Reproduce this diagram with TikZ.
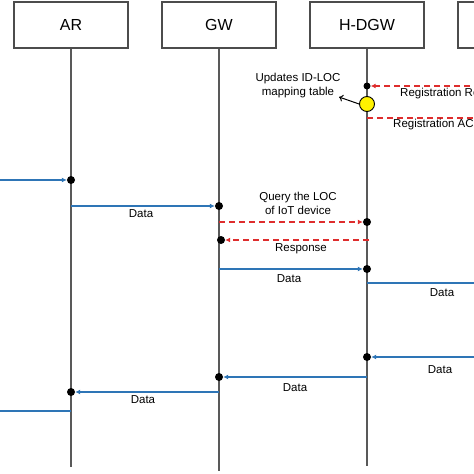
\documentclass[tikz,border=0pt]{standalone}
\usepackage{fontspec}
\setmainfont{Liberation Sans}
\usetikzlibrary{arrows.meta}
\definecolor{msgblue}{RGB}{46,117,182}
\definecolor{ctlred}{RGB}{222,45,45}
\begin{document}
\begin{tikzpicture}[x=1pt,y=-1pt,
  headbox/.style={draw=black!70, line width=1.1pt, minimum width=114pt, minimum height=46pt, inner sep=0pt, font=\fontsize{16}{19}\selectfont},
  life/.style={draw=black!65, line width=1.1pt},
  msg/.style={draw=msgblue, line width=1.5pt, -{Latex[length=5pt,width=5pt]}},
  msgfree/.style={draw=msgblue, line width=1.5pt},
  ctl/.style={draw=ctlred, line width=1.7pt, dash pattern=on 6pt off 4pt, -{Latex[length=5pt,width=5pt]}},
  ctlfree/.style={draw=ctlred, line width=1.7pt, dash pattern=on 6pt off 4pt},
  evdot/.style={circle, fill=black, inner sep=0pt, minimum size=8pt},
  lbl/.style={font=\fontsize{11.5}{14}\selectfont, inner sep=0pt, align=center}]
\useasboundingbox (0,0) rectangle (474,474);
\clip (0,0) rectangle (474,474);
% heads
\node[headbox] (ar) at (71,25) {AR};
\node[headbox] (gw) at (219,25) {GW};
\node[headbox] (hd) at (367,25) {H-DGW};
\node[headbox] (ot) at (515,25) {};
% lifeline ends
\coordinate (arE) at (71,467);
\coordinate (gwE) at (219,471);
\coordinate (hdE) at (367,466);
\draw[life] (ar.south) -- (arE);
\draw[life] (gw.south) -- (gwE);
\draw[life] (hd.south) -- (hdE);
% registration request
\coordinate (rrR) at (480,86);
\node[evdot, minimum size=7pt] (rrD) at (367,86) {};
\draw[ctl] (rrR) -- (rrD);
\node[lbl, anchor=west] (rrL) at (400,94) {Registration Request};
% update
\node[circle, draw=black, fill=yellow, line width=0.9pt, minimum size=15pt, inner sep=0pt] (upd) at (367,104) {};
\node[lbl] (updL) at (298,86) {Updates ID-LOC\\mapping table};
\coordinate (updT) at (339,97);
\draw[line width=1pt, -{To[length=4pt,width=7pt]}] (upd.west) -- (updT);
% registration ack
\coordinate (raH) at (367,118);
\coordinate (raR) at (480,118);
\draw[ctlfree] (raH) -- (raR);
\node[lbl, anchor=west] (raL) at (393,125) {Registration ACK};
% incoming to AR
\coordinate (inL) at (-5,180);
\node[evdot] (arD1) at (71,180) {};
\draw[msg] (inL) -- (arD1);
% data AR -> GW
\coordinate (ar2) at (71,206);
\node[evdot] (gwD1) at (219,206) {};
\draw[msg] (ar2) -- (gwD1);
\node[lbl] (d1) at (141,214) {Data};
% query
\coordinate (gw2) at (219,222);
\node[evdot] (hdD1) at (367,222) {};
\draw[ctl] (gw2) -- (hdD1);
\node[lbl] (qL) at (298,203) {Query the LOC\\of IoT device};
% response
\coordinate (hd2) at (369,240);
\node[evdot] (gwD2) at (221,240) {};
\draw[ctl] (hd2) -- (gwD2);
\node[lbl] (rL) at (301,249) {Response};
% data GW -> H-DGW
\coordinate (gw3) at (219,269);
\node[evdot] (hdD2) at (367,269) {};
\draw[msg] (gw3) -- (hdD2);
\node[lbl] (d2) at (289,279) {Data};
% data H-DGW -> right
\coordinate (hd3) at (367,283);
\coordinate (outR) at (480,283);
\draw[msgfree] (hd3) -- (outR);
\node[lbl] (d3) at (442,293) {Data};
% data right -> H-DGW
\coordinate (inR) at (480,357);
\node[evdot] (hdD3) at (367,357) {};
\draw[msg] (inR) -- (hdD3);
\node[lbl] (d4) at (440,370) {Data};
% data H-DGW -> GW
\coordinate (hd4) at (367,377);
\node[evdot] (gwD3) at (219,377) {};
\draw[msg] (hd4) -- (gwD3);
\node[lbl] (d5) at (295,388) {Data};
% data GW -> AR
\coordinate (gw4) at (219,392);
\node[evdot] (arD2) at (71,392) {};
\draw[msg] (gw4) -- (arD2);
\node[lbl] (d6) at (143,400) {Data};
% AR -> left
\coordinate (ar3) at (71,411);
\coordinate (outL) at (-5,411);
\draw[msgfree] (ar3) -- (outL);
\end{tikzpicture}
\end{document}
